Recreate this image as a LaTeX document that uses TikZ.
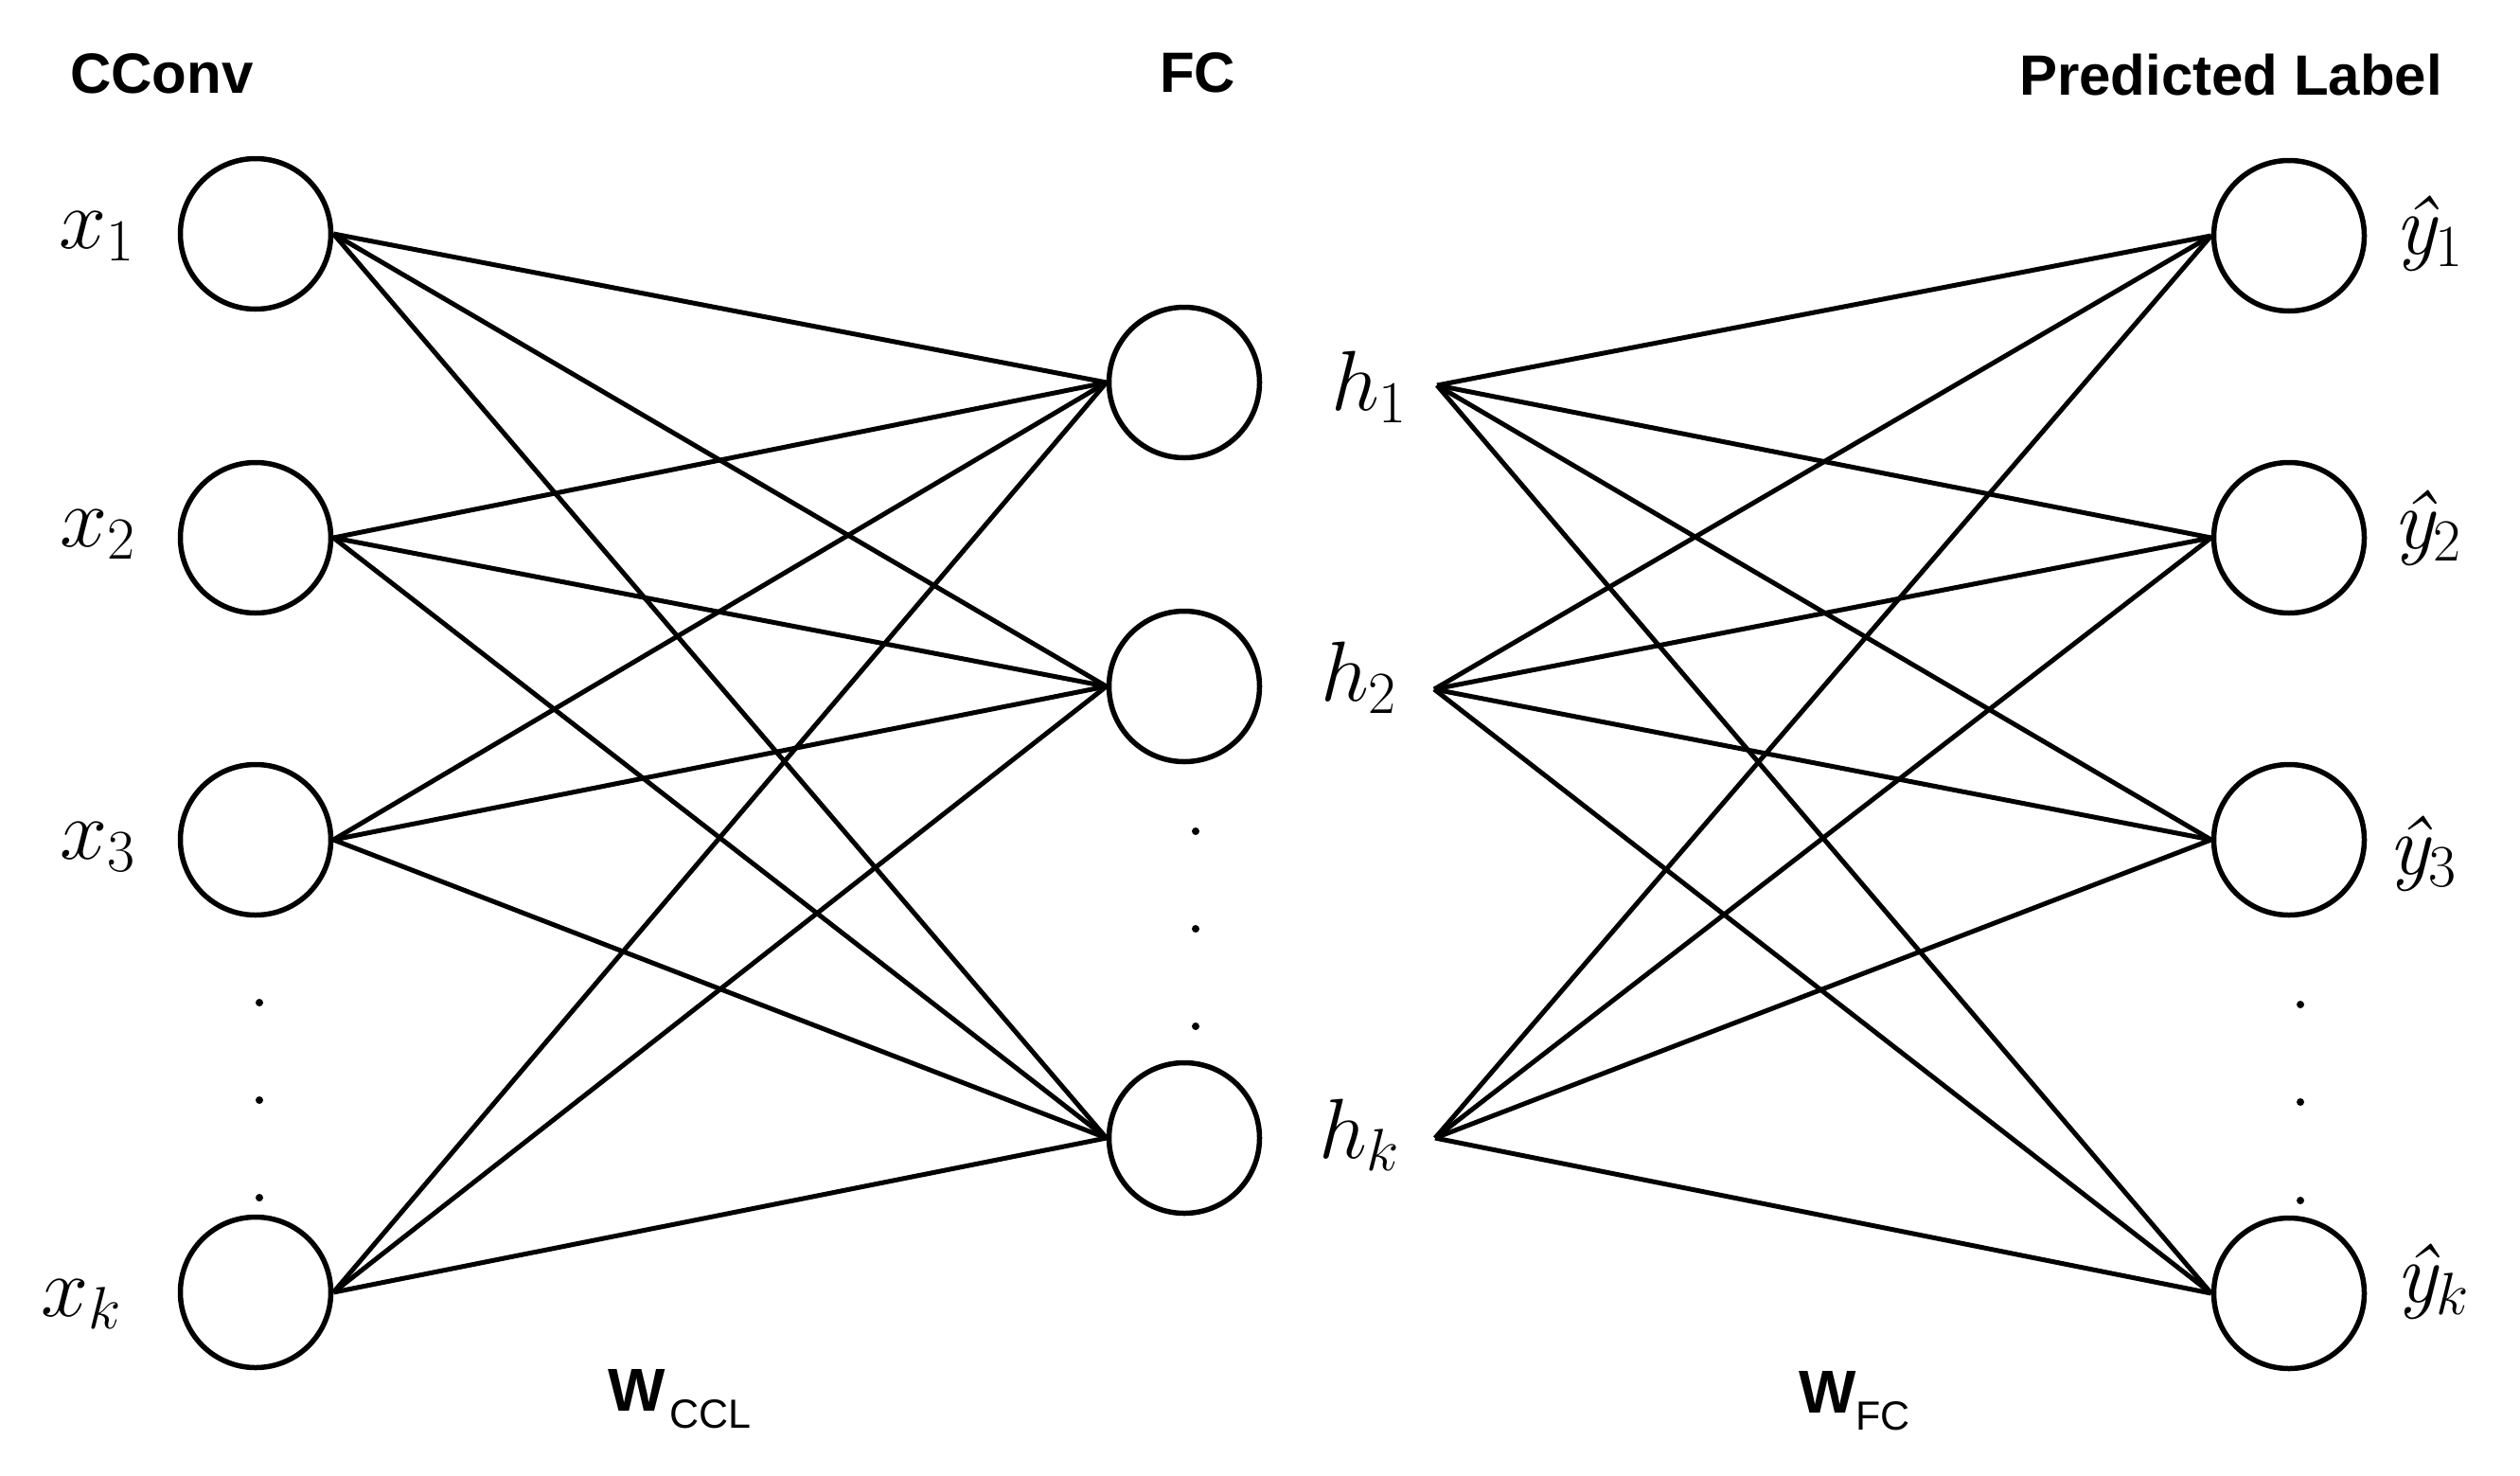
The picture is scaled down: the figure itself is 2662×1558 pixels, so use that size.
\RequirePackage{fix-cm}
\documentclass[tikz,border=0pt]{standalone}
\usepackage{fontspec}
\newfontfamily\arialfont{Liberation Sans}
\begin{document}
\begin{tikzpicture}[x=1pt,y=-1pt,
  neuron/.style={circle,draw,line width=5.5pt,minimum size=159pt,inner sep=0pt},
  conn/.style={line width=5pt},
  head/.style={anchor=base west,inner sep=0pt,font=\arialfont\bfseries\fontsize{60}{72}\selectfont},
  var/.style={anchor=base west,inner sep=0pt,font=\fontsize{90}{100}\selectfont},
  wlab/.style={anchor=base west,inner sep=0pt,font=\arialfont\bfseries\fontsize{64}{76}\selectfont},
  wsub/.style={anchor=base west,inner sep=0pt,font=\arialfont\fontsize{43}{50}\selectfont},
  dotn/.style={circle,fill,inner sep=0pt,minimum size=8pt}]
\useasboundingbox (0,0) rectangle (2662,1558);
% neurons
\node[neuron] (x1) at (270,247) {};
\node[neuron] (x2) at (270,568) {};
\node[neuron] (x3) at (270,887) {};
\node[neuron] (xk) at (270,1365) {};
\node[neuron] (h1) at (1251,404) {};
\node[neuron] (h2) at (1251,725) {};
\node[neuron] (hk) at (1251,1202) {};
\node[neuron] (y1) at (2418,249) {};
\node[neuron] (y2) at (2418,568) {};
\node[neuron] (y3) at (2418,887) {};
\node[neuron] (yk) at (2418,1366) {};
% start points right of h labels
\coordinate (hs1) at (1518,407);
\coordinate (hs2) at (1515,728);
\coordinate (hsk) at (1516,1202);
% connectors
\foreach \s in {x1,x2,x3,xk}
  \foreach \t in {h1,h2,hk}
    \draw[conn] (\s.east) -- (\t.west);
\foreach \s in {hs1,hs2,hsk}
  \foreach \t in {y1,y2,y3,yk}
    \draw[conn] (\s) -- (\t.west);
% variable labels
\node[var] (lx1) at (62,262) {$x_1$};
\node[var] (lx2) at (63,577) {$x_2$};
\node[var] (lx3) at (63,907) {$x_3$};
\node[var] (lxk) at (43,1390) {$x_k$};
\node[var] (lh1) at (1406,433) {$h_1$};
\node[var] (lh2) at (1395,740) {$h_2$};
\node[var] (lhk) at (1393,1223) {$h_k$};
\node[var] (ly1) at (2530,268) {{\itshape\^{y}}$_1$};
\node[var] (ly2) at (2528,579) {{\itshape\^{y}}$_2$};
\node[var] (ly3) at (2523,923) {{\itshape\^{y}}$_3$};
\node[var] (lyk) at (2531,1375) {{\itshape\^{y}}$_k$};
% dots
\node[dotn] (dl1) at (274,1059) {};
\node[dotn] (dl2) at (274,1162) {};
\node[dotn] (dl3) at (274,1265) {};
\node[dotn] (dm1) at (1263,878) {};
\node[dotn] (dm2) at (1263,981) {};
\node[dotn] (dm3) at (1263,1084) {};
\node[dotn] (dr1) at (2430,1061) {};
\node[dotn] (dr2) at (2430,1164) {};
\node[dotn] (dr3) at (2430,1268) {};
% headers
\node[head] (hcconv) at (74,98) {CConv};
\node[head] (hfc) at (1225,97) {FC};
\node[head] (hpred) at (2133,100) {Predicted Label};
% weight labels
\node[wlab] (wccl) at (642,1490) {W};
\node[wsub] (wcclsub) at (707,1508) {CCL};
\node[wlab] (wfc) at (1900,1492) {W};
\node[wsub] (wfcsub) at (1960,1510) {FC};
\end{tikzpicture}
\end{document}
